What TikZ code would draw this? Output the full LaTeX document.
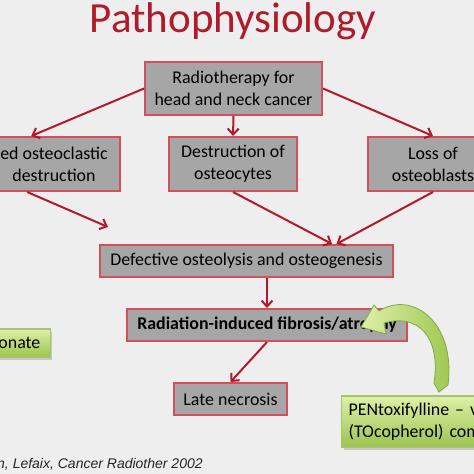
\documentclass[tikz,border=0pt]{standalone}
\usepackage{fontspec}
\setmainfont{Carlito}
\newfontfamily\citefont{Liberation Sans}
\usepackage{tikz}
\usetikzlibrary{arrows.meta,positioning,calc,shadows}
\definecolor{bg}{HTML}{EEEEEE}
\definecolor{boxgray}{HTML}{A6A6A6}
\definecolor{boxred}{HTML}{D24F5B}
\definecolor{arrred}{HTML}{B3182B}
\definecolor{titlered}{HTML}{B01A2A}
\definecolor{gtop}{HTML}{DDF0A8}
\definecolor{gbot}{HTML}{9CC44E}
\definecolor{gline}{HTML}{A6C46A}
\definecolor{gdark}{HTML}{84A845}
\newcommand{\boxfont}{\fontsize{17.9}{22}\selectfont}

\begin{document}
\begin{tikzpicture}[x=1pt,y=-1pt,
  patho/.style={
    rectangle, draw=boxred, fill=boxgray, line width=2pt,
    align=center, font=\boxfont, inner sep=3pt
  },
  drug/.style={
    rectangle, draw=gline, top color=gtop, bottom color=gbot,
    line width=1.2pt, font=\boxfont, inner ysep=3pt,
    drop shadow={shadow xshift=2pt, shadow yshift=-3pt, opacity=.35}
  },
  arr/.style={-{Straight Barb[length=6pt,width=11pt]}, arrred, line width=2pt}
]
\useasboundingbox (0,0) rectangle (474,474);
\clip (0,0) rectangle (474,474);
\fill[bg] (0,0) rectangle (474,474);

\node[font=\fontsize{43}{50}\selectfont, text=titlered, anchor=base] (title) at (233,32) {Pathophysiology};

\node[patho, minimum width=177pt, minimum height=53pt] (radio) at (233.5,88.5) {Radiotherapy for\\head and neck cancer};
\node[patho, minimum width=132pt, minimum height=54pt] (ocl) at (54,164) {ed osteoclastic\\destruction};
\node[patho, minimum width=128pt, minimum height=54pt] (ocy) at (233,164) {Destruction of\\osteocytes};
\node[patho, minimum width=130pt, minimum height=54pt] (obl) at (433,164) {Loss of\\osteoblasts};
\node[patho, minimum width=293pt, minimum height=32pt] (def) at (246.5,261) {Defective osteolysis and osteogenesis};
\node[patho, font=\boxfont\bfseries, minimum width=280pt, minimum height=32pt] (fib) at (267,325) {Radiation-induced fibrosis/atrophy};
\node[patho, minimum width=113pt, minimum height=32pt] (nec) at (230.5,399) {Late necrosis};

\node[drug, anchor=east, minimum height=28pt, text width=80pt, align=right, inner xsep=10pt] (bis) at (51,343) {onate};
\node[drug, anchor=west, minimum height=51pt, text width=160pt, align=left, inner xsep=7pt] (pen) at (341,421.5) {PENtoxifylline -- v\\(TOcopherol) com};

\node[font=\citefont\itshape\fontsize{14}{16}\selectfont, text=black!85, anchor=base west, inner sep=0pt] (cite) at (-3,468) {n, Lefaix, Cancer Radiother 2002};

% top level
\draw[arr] (radio.west) -- ($(ocl.north west)!0.33!(ocl.north east)$);
\draw[arr] (radio.south) -- (ocy.north);
\draw[arr] (radio.east) -- (obl.north);

% into defective remodelling
\coordinate (gap) at (108,227);
\draw[arr] ($(ocl.south west)!0.3!(ocl.south east)$) -- (gap);
\draw[arr] (ocy.south) -- ($(def.north west)!0.79!(def.north east)$);
\draw[arr] (obl.south) -- ($(def.north west)!0.805!(def.north east)$);

\draw[arr] (fib.north |- def.south) -- (fib.north);
\draw[arr] (fib.south) -- (nec.north);

% curved treatment arrow
\shadedraw[draw=gdark, line width=0.8pt, left color=gtop, right color=gbot]
  (361,327) -- (374,305) -- (379,311)
  .. controls (412,290) and (456,322) .. (448,385)
  -- (439,392) -- (434,383)
  .. controls (441,337) and (418,313) .. (384,323)
  -- (386,334) -- cycle;

\end{tikzpicture}
\end{document}
